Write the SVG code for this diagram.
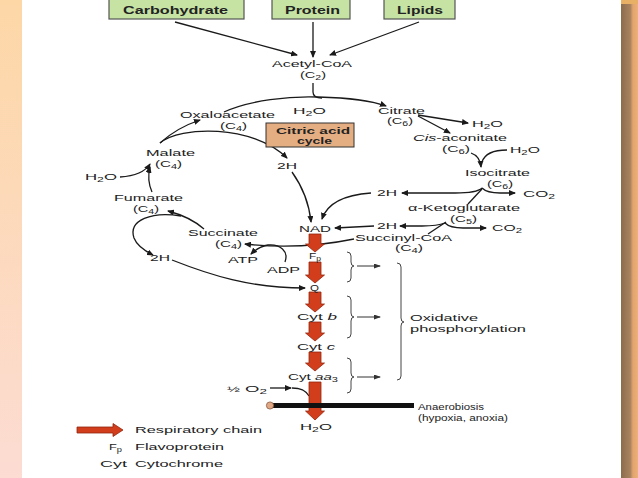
<svg xmlns="http://www.w3.org/2000/svg" width="638" height="478" viewBox="0 0 638 478">
<defs>
<linearGradient id="lg" x1="0" y1="0" x2="0" y2="1"><stop offset="0" stop-color="#fdd7a6"/><stop offset="1" stop-color="#fcdcd3"/></linearGradient>
<linearGradient id="rg" x1="0" y1="0" x2="1" y2="0"><stop offset="0" stop-color="#8c6c4c"/><stop offset="0.55" stop-color="#a98360"/><stop offset="0.7" stop-color="#e2a46c"/><stop offset="1" stop-color="#eeb07a"/></linearGradient>
<marker id="ah" markerWidth="7" markerHeight="6" refX="6" refY="3" orient="auto" markerUnits="userSpaceOnUse"><path d="M0,0 L7,3 L0,6 z" fill="#1a1a1a"/></marker>
<marker id="ahg" markerWidth="7" markerHeight="5" refX="6" refY="2.5" orient="auto" markerUnits="userSpaceOnUse"><path d="M0,0 L7,2.5 L0,5 z" fill="#333"/></marker>
<style>
text{font-family:"Liberation Sans",Arial,sans-serif;font-size:9px;fill:#222;}
.b{font-weight:bold;font-size:10.5px;}
.cb{font-weight:bold;font-size:9px;}
.s{font-size:6.5px;}
.c{fill:none;stroke:#1a1a1a;stroke-width:1.3;}
.br{fill:none;stroke:#444;stroke-width:1;}
.ba{fill:none;stroke:#333;stroke-width:1;}
.box{fill:#c6e3a4;stroke:#555;stroke-width:1.2;}
.red{fill:#d23d1c;stroke:#93260f;stroke-width:0.8;}
</style>
</defs>
<rect width="638" height="478" fill="#fff"/>
<rect x="0" y="0" width="22" height="478" fill="url(#lg)"/>
<rect x="621" y="0" width="17" height="478" fill="url(#rg)"/>
<rect x="621" y="0" width="17" height="4" fill="#e8b064"/>

<g id="carbohydrate"><rect class="box" x="109" y="-1" width="135" height="20"/><text class="b" x="123" y="14" textLength="105" lengthAdjust="spacingAndGlyphs">Carbohydrate</text></g>
<g id="protein"><rect class="box" x="272" y="-1" width="78" height="20"/><text class="b" x="285" y="14" textLength="55" lengthAdjust="spacingAndGlyphs">Protein</text></g>
<g id="lipids"><rect class="box" x="384" y="-1" width="71" height="20"/><text class="b" x="397" y="14" textLength="46" lengthAdjust="spacingAndGlyphs">Lipids</text></g>

<g id="connectors">
<path class="c" d="M175,22 L297,55" marker-end="url(#ah)"/>
<path class="c" d="M313,22 L313,57" marker-end="url(#ah)"/>
<path class="c" d="M419,22 L330,55" marker-end="url(#ah)"/>
<path class="c" d="M313,83 L313,92 Q313,98 322,98"/>
<path class="c" d="M224,112 C250,100 290,96 318,97 C350,98 370,100 386,106" marker-end="url(#ah)"/>
<path class="c" d="M418,115 L468,123" marker-end="url(#ah)"/>
<path class="c" d="M418,116 L450,133" marker-end="url(#ah)"/>
<path class="c" d="M471,153 Q480,156 481,167" marker-end="url(#ah)"/>
<path class="c" d="M507,150 Q486,150 482,162"/>
<path class="c" d="M482,188 C478,192 470,193 455,193 L402,193" marker-end="url(#ah)"/>
<path class="c" d="M482,188 C486,192 494,193 500,193 L515,193" marker-end="url(#ah)"/>
<path class="c" d="M482,189 L468,204"/>
<path class="c" d="M371,193 C342,195 327,204 322,219" marker-end="url(#ah)"/>
<path class="c" d="M445,223 C440,225 432,226 422,226 L400,226" marker-end="url(#ah)"/>
<path class="c" d="M445,223 C449,227 455,228 463,228 L486,228" marker-end="url(#ah)"/>
<path class="c" d="M446,222 L428,234"/>
<path class="c" d="M374,226 L335,228" marker-end="url(#ah)"/>
<path class="c" d="M160,143 C172,132 185,125 200,120" marker-end="url(#ah)"/>
<path class="c" d="M160,143 C180,126 252,124 287,158" marker-end="url(#ah)"/>
<path class="c" d="M292,172 C302,186 309,202 311,222" marker-end="url(#ah)"/>
<path class="c" d="M120,177 C135,176 145,172 150,164" marker-end="url(#ah)"/>
<path class="c" d="M152,192 C148,183 148,175 150,167" marker-end="url(#ah)"/>
<path class="c" d="M204,229 C195,221 183,215 168,211" marker-end="url(#ah)"/>
<path class="c" d="M181,216 C152,211 128,220 134,238 C137,246 145,251 153,255" marker-end="url(#ah)"/>
<path class="c" d="M172,260 C210,275 250,288 305,288" marker-end="url(#ah)"/>
<path class="c" d="M285,262 C289,251 280,244 268,245 C262,246 256,249 251,254" marker-end="url(#ah)"/>
<path class="c" d="M354,239 C320,246 280,248 245,244" marker-end="url(#ah)"/>
<path class="c" d="M270,388 L291,388" marker-end="url(#ah)"/>
<path class="c" d="M292,388 C302,388 306,391 309,396"/>
<path class="br" d="M347,252 Q351,252 351,256 L351,262 Q351,266 354,266 Q351,266 351,270 L351,278 Q351,282 347,282"/>
<path class="br" d="M347,296 Q351,296 351,300 L351,313 Q351,317 354,317 Q351,317 351,321 L351,334 Q351,338 347,338"/>
<path class="br" d="M347,358 Q351,358 351,362 L351,373 Q351,377 354,377 Q351,377 351,381 L351,389 Q351,393 347,393"/>
<path class="br" d="M397,263 Q401,263 401,267 L401,318 Q401,322 404,322 Q401,322 401,326 L401,376 Q401,380 397,380"/>
<path class="ba" d="M357,266 L380,266" marker-end="url(#ahg)"/>
<path class="ba" d="M357,317 L380,317" marker-end="url(#ahg)"/>
<path class="ba" d="M357,377 L380,377" marker-end="url(#ahg)"/>
</g>

<g id="respiratory-chain">
<path class="red" d="M309,234 H321 V244 H324.5 L315,252 L305.5,244 H309 Z"/>
<path class="red" d="M309,262 H321 V275 H324.5 L315,283 L305.5,275 H309 Z"/>
<path class="red" d="M309,292 H321 V304 H324.5 L315,312 L305.5,304 H309 Z"/>
<path class="red" d="M309,322 H321 V333 H324.5 L315,341 L305.5,333 H309 Z"/>
<path class="red" d="M309,352 H321 V363 H324.5 L315,371 L305.5,363 H309 Z"/>
<path class="red" d="M309,382 H321 V411 H324.5 L315,420 L305.5,411 H309 Z"/>
</g>

<g id="anaerobiosis-bar">
<rect x="270" y="403" width="144" height="5" fill="#111"/>
<circle cx="270" cy="405.5" r="3.6" fill="#e0a884" stroke="#8a5a40" stroke-width="0.8"/>
</g>

<g id="acetyl-coa"><text x="272" y="67" textLength="80" lengthAdjust="spacingAndGlyphs">Acetyl-CoA</text><text x="300" y="77.5" textLength="26" lengthAdjust="spacingAndGlyphs">(C<tspan class="s" dy="2">2</tspan><tspan dy="-2">)</tspan></text></g>
<g id="oxaloacetate"><text x="180" y="118" textLength="95" lengthAdjust="spacingAndGlyphs">Oxaloacetate</text><text x="220" y="128.5" textLength="27" lengthAdjust="spacingAndGlyphs">(C<tspan class="s" dy="2">4</tspan><tspan dy="-2">)</tspan></text></g>
<g id="h2o-top"><text x="293" y="114" textLength="33" lengthAdjust="spacingAndGlyphs">H<tspan class="s" dy="2">2</tspan><tspan dy="-2">O</tspan></text></g>
<g id="citrate"><text x="378" y="113.5" textLength="47" lengthAdjust="spacingAndGlyphs">Citrate</text><text x="387" y="124" textLength="26" lengthAdjust="spacingAndGlyphs">(C<tspan class="s" dy="2">6</tspan><tspan dy="-2">)</tspan></text></g>
<g id="citric-acid-cycle"><rect x="266" y="123" width="88" height="24" fill="#e4ad82" stroke="#333" stroke-width="1"/><text class="cb" x="276" y="133.5" textLength="74" lengthAdjust="spacingAndGlyphs">Citric acid</text><text class="cb" x="297" y="144" textLength="35" lengthAdjust="spacingAndGlyphs">cycle</text></g>
<g id="h2o-r1"><text x="472" y="127" textLength="31" lengthAdjust="spacingAndGlyphs">H<tspan class="s" dy="2">2</tspan><tspan dy="-2">O</tspan></text></g>
<g id="cis-aconitate"><text x="413" y="141" textLength="94" lengthAdjust="spacingAndGlyphs"><tspan font-style="italic">Cis</tspan>-aconitate</text><text x="442" y="151.5" textLength="28" lengthAdjust="spacingAndGlyphs">(C<tspan class="s" dy="2">6</tspan><tspan dy="-2">)</tspan></text></g>
<g id="h2o-r2"><text x="510" y="153" textLength="30" lengthAdjust="spacingAndGlyphs">H<tspan class="s" dy="2">2</tspan><tspan dy="-2">O</tspan></text></g>
<g id="isocitrate"><text x="465" y="176" textLength="65" lengthAdjust="spacingAndGlyphs">Isocitrate</text><text x="487" y="186.5" textLength="26" lengthAdjust="spacingAndGlyphs">(C<tspan class="s" dy="2">6</tspan><tspan dy="-2">)</tspan></text></g>
<g id="2h-r1"><text x="377" y="196" textLength="20" lengthAdjust="spacingAndGlyphs">2H</text></g>
<g id="co2-r1"><text x="523" y="197" textLength="32" lengthAdjust="spacingAndGlyphs">CO<tspan class="s" dy="2">2</tspan></text></g>
<g id="ketoglutarate"><text x="408" y="211" textLength="112" lengthAdjust="spacingAndGlyphs">α-Ketoglutarate</text><text x="450" y="221.5" textLength="27" lengthAdjust="spacingAndGlyphs">(C<tspan class="s" dy="2">5</tspan><tspan dy="-2">)</tspan></text></g>
<g id="2h-r2"><text x="377" y="229" textLength="20" lengthAdjust="spacingAndGlyphs">2H</text></g>
<g id="co2-r2"><text x="492" y="231" textLength="30" lengthAdjust="spacingAndGlyphs">CO<tspan class="s" dy="2">2</tspan></text></g>
<g id="succinyl-coa"><text x="355" y="240.5" textLength="97" lengthAdjust="spacingAndGlyphs">Succinyl-CoA</text><text x="395" y="251" textLength="28" lengthAdjust="spacingAndGlyphs">(C<tspan class="s" dy="2">4</tspan><tspan dy="-2">)</tspan></text></g>
<g id="nad"><text x="299" y="232" textLength="32" lengthAdjust="spacingAndGlyphs">NAD</text></g>
<g id="malate"><text x="146" y="156" textLength="49" lengthAdjust="spacingAndGlyphs">Malate</text><text x="155" y="166.5" textLength="27" lengthAdjust="spacingAndGlyphs">(C<tspan class="s" dy="2">4</tspan><tspan dy="-2">)</tspan></text></g>
<g id="h2o-left"><text x="85" y="180" textLength="32" lengthAdjust="spacingAndGlyphs">H<tspan class="s" dy="2">2</tspan><tspan dy="-2">O</tspan></text></g>
<g id="fumarate"><text x="114" y="201" textLength="69" lengthAdjust="spacingAndGlyphs">Fumarate</text><text x="133" y="211.5" textLength="26" lengthAdjust="spacingAndGlyphs">(C<tspan class="s" dy="2">4</tspan><tspan dy="-2">)</tspan></text></g>
<g id="2h-upper"><text x="277" y="169" textLength="20" lengthAdjust="spacingAndGlyphs">2H</text></g>
<g id="succinate"><text x="188" y="236" textLength="70" lengthAdjust="spacingAndGlyphs">Succinate</text><text x="215" y="246.5" textLength="27" lengthAdjust="spacingAndGlyphs">(C<tspan class="s" dy="2">4</tspan><tspan dy="-2">)</tspan></text></g>
<g id="2h-left"><text x="150" y="261" textLength="20" lengthAdjust="spacingAndGlyphs">2H</text></g>
<g id="atp"><text x="228" y="263" textLength="30" lengthAdjust="spacingAndGlyphs">ATP</text></g>
<g id="adp"><text x="267" y="273" textLength="33" lengthAdjust="spacingAndGlyphs">ADP</text></g>
<g id="fp"><text x="309" y="259" textLength="12" lengthAdjust="spacingAndGlyphs">F<tspan class="s" dy="2">p</tspan></text></g>
<g id="q"><text x="310" y="291" textLength="9" lengthAdjust="spacingAndGlyphs">Q</text></g>
<g id="cyt-b"><text x="297" y="320" textLength="40" lengthAdjust="spacingAndGlyphs">Cyt <tspan font-style="italic">b</tspan></text></g>
<g id="cyt-c"><text x="297" y="350" textLength="38" lengthAdjust="spacingAndGlyphs">Cyt <tspan font-style="italic">c</tspan></text></g>
<g id="cyt-aa3"><text x="288" y="380" textLength="50" lengthAdjust="spacingAndGlyphs">Cyt <tspan font-style="italic">aa</tspan><tspan class="s" dy="2">3</tspan></text></g>
<g id="oxidative-phosphorylation"><text x="410" y="321" textLength="68" lengthAdjust="spacingAndGlyphs">Oxidative</text><text x="410" y="331.5" textLength="116" lengthAdjust="spacingAndGlyphs">phosphorylation</text></g>
<g id="o2"><text x="227" y="392" textLength="40" lengthAdjust="spacingAndGlyphs"><tspan font-size="7.5">½</tspan> O<tspan class="s" dy="2">2</tspan></text></g>
<g id="h2o-bottom"><text x="300" y="430" textLength="32" lengthAdjust="spacingAndGlyphs">H<tspan class="s" dy="2">2</tspan><tspan dy="-2">O</tspan></text></g>
<g id="anaerobiosis"><text x="418" y="410" textLength="66" lengthAdjust="spacingAndGlyphs">Anaerobiosis</text><text x="418" y="421" textLength="90" lengthAdjust="spacingAndGlyphs">(hypoxia, anoxia)</text></g>

<g id="legend">
<path class="red" d="M77,427 H113 V423.5 L123,430 L113,436.5 V433 H77 Z"/>
<text x="135" y="433" textLength="127" lengthAdjust="spacingAndGlyphs">Respiratory chain</text>
<text x="109" y="450" textLength="13" lengthAdjust="spacingAndGlyphs">F<tspan class="s" dy="2">p</tspan></text>
<text x="135" y="450" textLength="89" lengthAdjust="spacingAndGlyphs">Flavoprotein</text>
<text x="100" y="467" textLength="27" lengthAdjust="spacingAndGlyphs">Cyt</text>
<text x="135" y="467" textLength="88" lengthAdjust="spacingAndGlyphs">Cytochrome</text>
</g>
</svg>
